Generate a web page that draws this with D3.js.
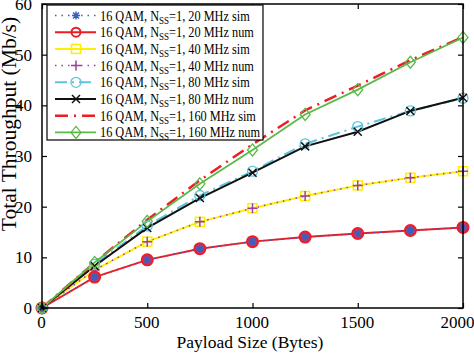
<!DOCTYPE html>
<html>
<head>
<meta charset="utf-8">
<script src="https://cdn.jsdelivr.net/npm/d3@7"></script>
<style>
  body { margin: 0; background: #fff; }
  text { font-family: "Liberation Serif", "Times New Roman", serif; }
</style>
</head>
<body>
<script>
// payload sizes (bytes)
const payload = [0, 250, 500, 750, 1000, 1250, 1500, 1750, 2000];

// throughput (Mb/s)
const sim20  = [0, 6.1, 9.5, 11.7, 13.1, 14.0, 14.7, 15.3, 15.9];
const num20  = [0, 6.1, 9.5, 11.7, 13.1, 14.0, 14.7, 15.3, 15.9];
const sim40  = [0, 7.5, 13.1, 17.0, 19.7, 22.1, 24.2, 25.7, 27.0];
const num40  = [0, 7.5, 13.1, 17.0, 19.7, 22.1, 24.2, 25.7, 27.0];
const sim80  = [0, 8.6, 16.2, 22.2, 27.0, 32.4, 35.8, 38.9, 41.4];
const num80  = [0, 8.3, 15.8, 21.7, 26.7, 31.9, 34.8, 38.9, 41.5];
const sim160 = [0, 9.0, 17.4, 25.2, 32.3, 39.0, 43.9, 48.9, 53.5];
const num160 = [0, 9.0, 17.1, 24.5, 31.2, 38.2, 43.1, 48.5, 53.4];

const xTicks = [0, 500, 1000, 1500, 2000];
const yTicks = [0, 10, 20, 30, 40, 50, 60];

const labels = ["20 MHz sim", "20 MHz num", "40 MHz sim", "40 MHz num",
                "80 MHz sim", "80 MHz num", "160 MHz sim", "160 MHz num"];

const series = [
  { values: sim20,  color: "#3a5fbf", width: 1.5, dash: "1.5,5",      marker: "star" },
  { values: num20,  color: "#ee1c24", width: 2,   dash: null,         marker: "circle" },
  { values: sim40,  color: "#ffee00", width: 2,   dash: null,         marker: "square" },
  { values: num40,  color: "#a0409a", width: 1.5, dash: "1.5,5",      marker: "plus" },
  { values: sim80,  color: "#5ec4dc", width: 2,   dash: "12,5,2,5",   marker: "circleOpen" },
  { values: num80,  color: "#111111", width: 2,   dash: null,         marker: "cross" },
  { values: sim160, color: "#ee1c24", width: 2.5, dash: "13,6,2,6",   marker: null },
  { values: num160, color: "#5ab947", width: 1.8, dash: null,         marker: "diamond" }
];

const W = 474, H = 353;
const m = { left: 42, right: 11, top: 4, bottom: 45 };

const svg = d3.select("body").append("svg")
  .attr("width", W).attr("height", H);

const x = d3.scaleLinear().domain([0, 2000]).range([m.left, W - m.right]);
const y = d3.scaleLinear().domain([0, 60]).range([H - m.bottom, m.top]);

// series lines
const line = d3.line().x((d, i) => x(payload[i])).y(d => y(d));

function drawMarker(g, type, cx, cy, color) {
  if (type === "circle") {
    g.append("circle").attr("cx", cx).attr("cy", cy).attr("r", 5.5)
      .attr("fill", "#b83c78").attr("stroke", color).attr("stroke-width", 2);
  } else if (type === "circleLeg") {
    g.append("circle").attr("cx", cx).attr("cy", cy).attr("r", 4.5)
      .attr("fill", "none").attr("stroke", color).attr("stroke-width", 2);
  } else if (type === "circleOpen") {
    g.append("circle").attr("cx", cx).attr("cy", cy).attr("r", 5)
      .attr("fill", "none").attr("stroke", color).attr("stroke-width", 1.3);
  } else if (type === "square") {
    g.append("rect").attr("x", cx - 4.5).attr("y", cy - 4.5).attr("width", 9).attr("height", 9)
      .attr("fill", "none").attr("stroke", color).attr("stroke-width", 1.5);
  } else if (type === "plus") {
    g.append("path").attr("d", `M${cx - 5},${cy}H${cx + 5}M${cx},${cy - 5}V${cy + 5}`)
      .attr("stroke", color).attr("stroke-width", 1.5);
  } else if (type === "cross") {
    g.append("path").attr("d", `M${cx - 4},${cy - 4}L${cx + 4},${cy + 4}M${cx - 4},${cy + 4}L${cx + 4},${cy - 4}`)
      .attr("stroke", color).attr("stroke-width", 1.5);
  } else if (type === "star") {
    g.append("path").attr("d", `M${cx - 4},${cy}H${cx + 4}M${cx},${cy - 4}V${cy + 4}M${cx - 3},${cy - 3}L${cx + 3},${cy + 3}M${cx - 3},${cy + 3}L${cx + 3},${cy - 3}`)
      .attr("stroke", color).attr("stroke-width", 1.5);
  } else if (type === "diamond") {
    g.append("path").attr("d", `M${cx},${cy - 6}L${cx + 5},${cy}L${cx},${cy + 6}L${cx - 5},${cy}Z`)
      .attr("fill", "none").attr("stroke", color).attr("stroke-width", 1.3);
  }
}

const plot = svg.append("g");
const order = [2, 3, 1, 0, 4, 5, 6, 7];
order.forEach(k => {
  const s = series[k];
  plot.append("path").datum(s.values)
    .attr("d", line)
    .attr("fill", "none")
    .attr("stroke", s.color)
    .attr("stroke-width", s.width)
    .attr("stroke-dasharray", s.dash);
});
order.forEach(k => {
  const s = series[k];
  if (!s.marker) return;
  s.values.forEach((v, i) => drawMarker(plot, s.marker, x(payload[i]), y(v), s.color));
});

// frame and axes (ticks inward, like MATLAB)
const x0 = x(0), x1 = x(2000), y0 = y(0), y1 = y(60);
svg.append("rect").attr("x", x0).attr("y", y1).attr("width", x1 - x0).attr("height", y0 - y1)
  .attr("fill", "none").attr("stroke", "#000").attr("stroke-width", 1.5);

svg.append("g").attr("transform", `translate(0,${y0})`)
  .call(d3.axisBottom(x).tickValues(xTicks).tickFormat(d3.format("d"))
    .tickSizeInner(-5).tickSizeOuter(0).tickPadding(8))
  .call(g => g.select(".domain").remove())
  .selectAll("text").attr("font-size", 17).attr("fill", "#000")
  .attr("dx", d => d === 2000 ? -6 : -1)
  .style("font-family", "'Liberation Serif', serif");

svg.append("g").attr("transform", `translate(0,${y1})`)
  .call(d3.axisTop(x).tickValues(xTicks).tickSizeInner(-5).tickSizeOuter(0).tickFormat(""))
  .call(g => g.select(".domain").remove());

svg.append("g").attr("transform", `translate(${x0},0)`)
  .call(d3.axisLeft(y).tickValues(yTicks).tickSizeInner(-5).tickSizeOuter(0).tickPadding(10))
  .call(g => g.select(".domain").remove())
  .selectAll("text").attr("font-size", 17).attr("fill", "#000")
  .style("font-family", "'Liberation Serif', serif");

svg.append("g").attr("transform", `translate(${x1},0)`)
  .call(d3.axisRight(y).tickValues(yTicks).tickSizeInner(-5).tickSizeOuter(0).tickFormat(""))
  .call(g => g.select(".domain").remove());

svg.selectAll(".tick line").attr("stroke", "#000").attr("stroke-width", 1.2);

// axis titles
svg.append("text").attr("x", 250).attr("y", 348)
  .attr("text-anchor", "middle").attr("font-size", 17.5)
  .text("Payload Size (Bytes)");

svg.append("text")
  .attr("transform", "translate(16,124) rotate(-90)")
  .attr("text-anchor", "middle").attr("font-size", 21.5)
  .text("Total Throughput (Mb/s)");

// legend
const lg = svg.append("g");
lg.append("rect").attr("x", 47).attr("y", 5).attr("width", 216).attr("height", 135)
  .attr("fill", "#fff").attr("stroke", "#000").attr("stroke-width", 1.2);

labels.forEach((lab, i) => {
  const s = series[i];
  const ly = 15.5 + i * 16.7;
  lg.append("line").attr("x1", 55).attr("x2", 96).attr("y1", ly).attr("y2", ly)
    .attr("stroke", s.color).attr("stroke-width", s.width)
    .attr("stroke-dasharray", s.dash);
  if (s.marker) drawMarker(lg, s.marker === "circle" ? "circleLeg" : s.marker, 76, ly, s.color);
  const t = lg.append("text")
    .attr("transform", `translate(100,${ly + 5}) scale(0.82,1)`)
    .attr("font-size", 15);
  t.append("tspan").text("16 QAM, N");
  t.append("tspan").attr("font-size", 11).attr("dy", 3).text("SS");
  t.append("tspan").attr("dy", -3).text("=1, " + lab);
});
</script>
</body>
</html>
